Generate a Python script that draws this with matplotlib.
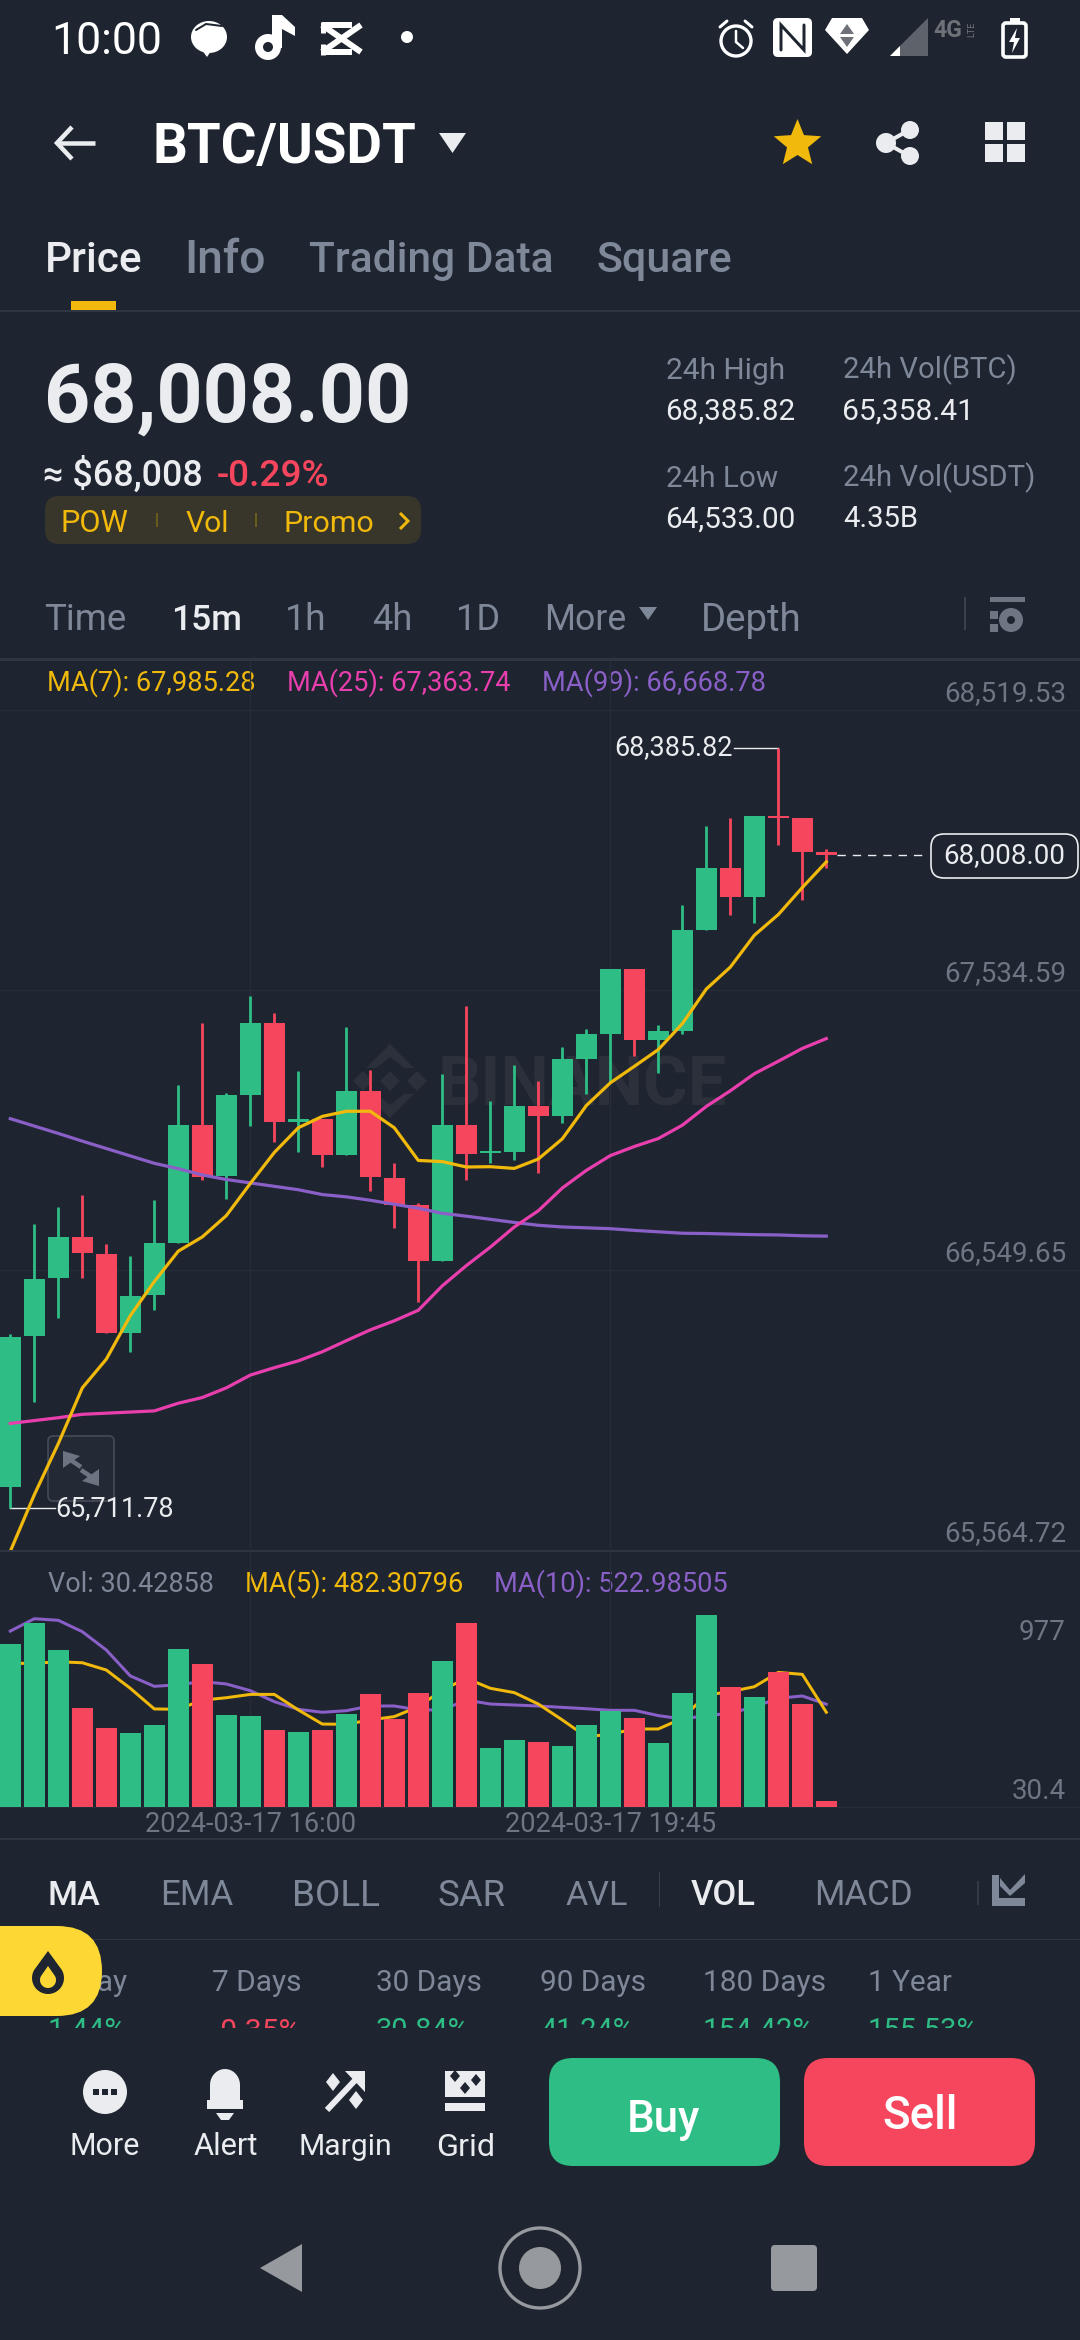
import numpy as np
import matplotlib
matplotlib.use("Agg")
import matplotlib.pyplot as plt
from matplotlib.patches import Polygon, Circle, Ellipse, Rectangle, FancyBboxPatch
from matplotlib.textpath import TextPath
from matplotlib.font_manager import FontProperties
from matplotlib.transforms import ScaledTranslation

# ---------- data ----------
opens = [65788, 66317, 66521, 66664, 66607, 66329, 66460, 66646, 67058, 66880, 67167, 67419,
         67072, 67080, 66955, 67181, 66874, 66779, 66583, 67058, 66961, 66965, 67125, 67091,
         67293, 67380, 67609, 67359, 67391, 67744, 67964, 67863, 68147, 68140, 68019]
highs = [66323, 66712, 66771, 66815, 66640, 66599, 66797, 67201, 67419, 67173, 67512, 67452,
         67248, 67080, 67403, 67252, 66927, 66787, 67238, 67478, 67145, 67272, 67215, 67334,
         67398, 67609, 67609, 67411, 67835, 68110, 68138, 68147, 68385.82, 68140, 68030]
lows = [65711.78, 66085, 66381, 66521, 66329, 66260, 66410, 66646, 66868, 66801, 67056, 66999,
        66963, 66912, 66955, 66826, 66696, 66436, 66583, 66868, 66927, 66937, 66891, 67065,
        67169, 67208, 67302, 67243, 67380, 67744, 67799, 67769, 68045, 67851, 67965]
closes = [66315, 66519, 66664, 66610, 66329, 66458, 66644, 67058, 66878, 67167, 67419, 67072,
          67080, 66955, 67181, 66876, 66779, 66583, 67058, 66959, 66969, 67125, 67091, 67292,
          67380, 67609, 67359, 67391, 67744, 67964, 67863, 68147, 68140, 68020, 68008]
ma7 = [65560, 65759, 65939, 66135, 66236, 66389, 66509, 66616, 66666, 66741, 66854, 66963,
       67050, 67090, 67108, 67108, 67050, 66935, 66931, 66912, 66913, 66907, 66940, 67011,
       67128, 67208, 67266, 67325, 67416, 67538, 67615, 67727, 67800, 67895, 67985.28]
ma25 = [66010, 66020, 66030, 66042, 66046, 66050, 66054, 66081, 66101, 66135, 66180, 66206,
        66230, 66262, 66301, 66339, 66371, 66408, 66494, 66565, 66630, 66701, 66758, 66838,
        66900, 66952, 66984, 67012, 67059, 67125, 67180, 67240, 67284, 67329, 67363.74]
ma99 = [67082, 67056, 67030, 67003, 66977, 66951, 66925, 66906, 66884, 66868, 66856, 66844,
        66832, 66815, 66807, 66795, 66781, 66767, 66749, 66739, 66728, 66717, 66707, 66701,
        66698, 66695, 66689, 66684, 66679, 66678, 66676, 66674, 66673, 66670, 66668.78]
volume = [831, 938, 797, 502, 402, 377, 416, 802, 729, 466, 465, 390, 383, 393, 471, 573, 449,
          580, 741, 936, 298, 343, 329, 310, 419, 488, 451, 327, 578, 977, 611, 561, 685, 526,
          30.43]
vol_ma5 = [731, 731, 739, 734, 697, 604, 499, 497, 544, 556, 573, 573, 494, 422, 421, 443, 460,
           510, 595, 655, 604, 582, 524, 443, 358, 370, 397, 397, 451, 570, 587, 612, 685, 675,
           482.31]
vol_ma10 = [895, 958, 950, 892, 799, 667, 614, 622, 638, 626, 592, 536, 497, 482, 490, 514, 514,
            494, 494, 544, 524, 519, 514, 507, 500, 492, 492, 465, 448, 465, 477, 510, 553, 565,
            522.99]
price_ticks = [65564.72, 66549.65, 67534.59, 68519.53]
price_labels = ["65,564.72", "66,549.65", "67,534.59", "68,519.53"]
vol_ticks = [30.4, 977]
vol_labels = ["30.4", "977"]
date_idx = [10, 25]
date_labels = ["2024-03-17 16:00", "2024-03-17 19:45"]
last_price = 68008.00

# ---------- palette ----------
BG = "#1E2530"
GREEN = "#2EBD85"
RED = "#F6465D"
YEL = "#F0B90B"
PINK = "#E93FAE"
PURP = "#8A60C8"
WHITE = "#EAECEF"
GREY = "#7F8899"
DIM = "#6E7683"
LINE = "#272D38"
SEP = "#2F3641"
FONT = ["Roboto", "DejaVu Sans"]

W, H = 1080, 2340
plt.rcParams["font.family"] = FONT
fig = plt.figure(figsize=(W / 100, H / 100), dpi=100, facecolor=BG)
ui = fig.add_axes([0, 0, 1, 1], zorder=0)
ui.set_xlim(0, W)
ui.set_ylim(H, 0)
ui.axis("off")


def extents(s, weight="normal"):
    fp = FontProperties(family=FONT, weight=weight, size=100)
    return TextPath((0, 0), s, prop=fp).get_extents()


def em_for(s, width, weight="normal"):
    return width / (extents(s, weight).width / 100.0)


def T(x0, x1, yc, s, color=WHITE, weight="normal", ax=None, z=5):
    """Text whose ink spans x0..x1 px with cap-centre at yc."""
    em = em_for(s, x1 - x0, weight)
    bearing = extents(s, weight).x0 / 100.0 * em
    return ui.text(x0 - bearing, yc + 0.355 * em, s, color=color, fontsize=em * 0.72, weight=weight,
                   ha="left", va="baseline", zorder=z)


def poly(pts, color, z=4):
    ui.add_patch(Polygon(pts, closed=True, fc=color, ec="none", zorder=z))


def rect(x0, y0, x1, y1, color, z=4):
    ui.add_patch(Rectangle((x0, y0), x1 - x0, y1 - y0, fc=color, ec="none", zorder=z))


def rrect(x0, y0, x1, y1, r, fc, ec="none", lw=0, z=4):
    ui.add_patch(FancyBboxPatch((x0, y0), x1 - x0, y1 - y0,
                                boxstyle=f"round,pad=0,rounding_size={r}",
                                fc=fc, ec=ec, lw=lw, zorder=z))


def circ(x, y, r, fc, ec="none", lw=0, z=4):
    ui.add_patch(Ellipse((x, y), 2 * r, 2 * r, fc=fc, ec=ec, lw=lw, zorder=z))


def pl(xs, ys, color, lw=3, z=4, cap="round"):
    ui.plot(xs, ys, color=color, lw=lw * 0.72, zorder=z, solid_capstyle=cap, solid_joinstyle="miter")


# ---------- status bar ----------
T(55, 160, 38, "10:00", "#FFFFFF")
ui.add_patch(Ellipse((209, 37), 36, 32, fc="#FFFFFF", ec="none", zorder=4))
poly([(199, 46), (213, 48), (207, 57)], "#FFFFFF")
pl([196, 206, 222], [30, 24, 26], BG, 2, z=5)
# note glyph
rect(272, 15, 282, 48, "#FFFFFF")
circ(268, 47, 13, "#FFFFFF")
circ(268, 47, 5, BG, z=5)
poly([(282, 15), (295, 27), (295, 36), (282, 29)], "#FFFFFF")
# hourglass
pl([322, 361], [25, 52], "#FFFFFF", 6, cap="butt")
pl([361, 322], [25, 52], "#FFFFFF", 6, cap="butt")
pl([322, 352], [25, 25], "#FFFFFF", 6, cap="butt")
pl([322, 352], [52, 52], "#FFFFFF", 6, cap="butt")
pl([323, 323], [22, 33], "#FFFFFF", 5, cap="butt")
pl([323, 323], [44, 55], "#FFFFFF", 5, cap="butt")
circ(407, 37, 6, "#FFFFFF")
# alarm
circ(736, 41, 15, BG, ec="#FFFFFF", lw=2.4)
pl([736, 736, 743], [31, 42, 48], "#FFFFFF", 2.5)
pl([720, 727], [27, 21], "#FFFFFF", 3)
pl([745, 752], [21, 27], "#FFFFFF", 3)
# NFC
rrect(773, 18, 812, 57, 5, "#FFFFFF")
pl([781, 781, 804, 804], [50, 25, 50, 25], BG, 3, z=5)
# diamond
poly([(832, 18), (862, 18), (869, 30), (847, 54), (825, 30)], "#FFFFFF")
poly([(847, 24), (840, 34), (854, 34)], "#6E7278", z=5)
poly([(847, 47), (840, 37), (854, 37)], "#6E7278", z=5)
# signal
poly([(890, 56), (928, 18), (928, 56)], "#5E636B")
poly([(890, 56), (900, 46), (900, 56)], "#FFFFFF", z=5)
T(934, 961, 29, "4G", "#6E7278", "bold")
ui.text(972, 29, "LTE", color="#6E7278", fontsize=6.5, rotation=90, ha="center", va="center")
# battery
rrect(1003, 23, 1026, 57, 3, BG, ec="#FFFFFF", lw=2.6)
rect(1010, 18, 1020, 23, "#FFFFFF")
poly([(1017, 28), (1009, 42), (1014, 42), (1012, 53), (1020, 38), (1015, 38)], "#FFFFFF", z=5)

# ---------- title row ----------
pl([95, 58], [143, 143], WHITE, 4.5, cap="butt")
pl([72, 57, 72], [127, 143, 159], WHITE, 4.5, cap="butt")
T(156, 415, 144, "BTC/USDT", "#FFFFFF", "bold")
poly([(439, 133), (466, 133), (452.5, 153)], WHITE)
ang = np.deg2rad(np.arange(10) * 36 - 90)
rad = np.where(np.arange(10) % 2 == 0, 25, 11)
poly(np.c_[797.5 + rad * np.cos(ang), 144 + rad * np.sin(ang)], "#F0B90B")
pl([911, 886, 911], [129, 143, 157], WHITE, 4)
circ(886, 143, 10, WHITE)
circ(910, 130, 9, WHITE)
circ(910, 156, 9, WHITE)
for gx in (985, 1007):
    for gy in (122, 144):
        rect(gx, gy, gx + 18, gy + 18, WHITE)

# ---------- tabs ----------
T(48, 141, 257, "Price", WHITE, "medium")
T(188, 264, 257, "Info", GREY, "medium")
T(310, 552, 257, "Trading Data", GREY, "medium")
T(598, 731, 257, "Square", GREY, "medium")
rect(71, 301, 116, 310, "#F0B90B")
rect(0, 310, W, 312, SEP)

# ---------- price block ----------
T(48, 408, 393, "68,008.00", WHITE, "bold")
T(45, 201, 473, "≈ $68,008", WHITE, "medium")
T(218, 328, 473, "-0.29%", RED, "medium")
rrect(45, 496, 421, 544, 14, "#38352B")
T(63, 128, 521, "POW", YEL)
T(186, 227, 521, "Vol", YEL)
T(286, 373, 521, "Promo", YEL)
rect(156, 513, 158, 527, "#6B5A1E")
rect(255, 513, 257, 527, "#6B5A1E")
pl([400, 408, 400], [513, 521, 529], YEL, 3, cap="butt")
T(667, 783, 368, "24h High", GREY)
T(667, 794, 409, "68,385.82", WHITE)
T(844, 1014, 368, "24h Vol(BTC)", GREY)
T(844, 968, 409, "65,358.41", WHITE)
T(667, 777, 476, "24h Low", GREY)
T(667, 794, 517, "64,533.00", WHITE)
T(844, 1033, 476, "24h Vol(USDT)", GREY)
T(844, 917, 517, "4.35B", WHITE)

# ---------- interval row ----------
T(45, 125, 617, "Time", GREY)
T(174, 240, 617, "15m", WHITE, "medium")
T(288, 324, 617, "1h", GREY)
T(373, 410, 617, "4h", GREY)
T(459, 498, 617, "1D", GREY)
T(547, 625, 617, "More", GREY)
poly([(639, 607), (657, 607), (648, 620)], GREY)
T(704, 799, 617, "Depth", GREY)
rect(964, 597, 965.5, 630, "#3A414C")
rect(990, 597, 1025, 602, DIM)
rect(990, 611, 998, 619, DIM)
rect(990, 624, 998, 632, DIM)
circ(1011, 620, 12, DIM)
circ(1011, 620, 4, BG, z=5)
rect(0, 658, W, 661, SEP)

# ---------- indicator legends ----------
T(49, 254, 681, "MA(7): 67,985.28", YEL)
T(289, 510, 681, "MA(25): 67,363.74", PINK)
T(544, 764, 681, "MA(99): 66,668.78", PURP)
T(48, 212, 1582, "Vol: 30.42858", GREY)
T(247, 462, 1582, "MA(5): 482.30796", YEL)
T(496, 727, 1582, "MA(10): 522.98505", PURP)

# ---------- watermark (behind chart) ----------
WM = "#2B303B"
wx, wy = 390, 1081
poly([(wx, wy - 10), (wx + 10, wy), (wx, wy + 10), (wx - 10, wy)], WM, z=2)
poly([(wx - 37, wy), (wx - 27, wy - 10), (wx - 17, wy), (wx - 27, wy + 10)], WM, z=2)
poly([(wx + 37, wy), (wx + 27, wy - 10), (wx + 17, wy), (wx + 27, wy + 10)], WM, z=2)
poly([(wx, wy - 37), (wx + 24, wy - 13), (wx + 14, wy - 13), (wx, wy - 24), (wx - 14, wy - 13), (wx - 24, wy - 13)], WM, z=2)
poly([(wx, wy + 37), (wx + 24, wy + 13), (wx + 14, wy + 13), (wx, wy + 24), (wx - 14, wy + 13), (wx - 24, wy + 13)], WM, z=2)
T(442, 725, 1081, "BINANCE", WM, "bold", z=2)

# expand button (behind chart)
rrect(48, 1436, 114, 1501, 5, "#232A35", ec="#454C57", lw=1.2, z=2)
poly([(63, 1451), (80, 1456), (63, 1468)], "#6B7480", z=3)
pl([69, 81], [1459, 1467], "#6B7480", 4.5, z=3, cap="butt")
poly([(99, 1486), (82, 1481), (99, 1469)], "#6B7480", z=3)
pl([93, 81], [1478, 1470], "#6B7480", 4.5, z=3, cap="butt")

# last-price box (behind chart text)
rrect(931, 834, 1078, 878, 13, BG, ec=WHITE, lw=1.2, z=3)

# ---------- chart axes ----------
X_PER_PX = 1 / 24.0
X0 = 10.3
xlim = (-X0 * X_PER_PX, (W - X0) * X_PER_PX)
idx = np.arange(len(closes))
to_i = lambda px: (px - X0) * X_PER_PX
dpi_trans = fig.dpi_scale_trans


def shift(label, dy_px):
    label.set_transform(label.get_transform() + ScaledTranslation(0, dy_px / 100.0, dpi_trans))


per_px = (price_ticks[3] - price_ticks[0]) / 840.0
ax = fig.add_axes([0, 1 - 1550 / H, 1, (1550 - 661) / H], zorder=1)
ax.patch.set_visible(False)
ax.set_xlim(*xlim)
ax.set_ylim(price_ticks[0], price_ticks[3] + 49 * per_px)
for s in ax.spines.values():
    s.set_visible(False)
ax.set_axisbelow(True)
ax.grid(True, color=LINE, lw=1.0)
ax.set_xticks(date_idx)
ax.set_xticklabels([])
ax.set_yticks(price_ticks)
ax.set_yticklabels(price_labels)
ax.yaxis.tick_right()
ax.tick_params(axis="both", length=0, pad=-14 * 0.72)
em_tick = em_for(price_labels[0], 119)
for lab in ax.get_yticklabels():
    lab.set_ha("right")
    lab.set_color(DIM)
    lab.set_fontsize(em_tick * 0.72)
    shift(lab, 19)

colors = [GREEN if c >= o else RED for o, c in zip(opens, closes)]
ax.vlines(idx, lows, highs, colors=colors, lw=2.8 * 0.72, zorder=3)
ax.bar(idx, np.abs(np.array(closes) - np.array(opens)), bottom=np.minimum(opens, closes),
       width=21 / 24, color=colors, linewidth=0, zorder=3)
ax.plot(idx, ma99, color=PURP, lw=3.2 * 0.72, zorder=4)
ax.plot(idx, ma25, color=PINK, lw=3.2 * 0.72, zorder=4)
ax.plot(idx, ma7, color=YEL, lw=3.2 * 0.72, zorder=5)

# high / low / last-price markers
imax = int(np.argmax(highs))
imin = int(np.argmin(lows))
ax.plot([to_i(734), imax], [highs[imax], highs[imax]], color=WHITE, lw=1.0, zorder=2)
ax.plot([imin, to_i(55)], [lows[imin], lows[imin]], color=WHITE, lw=1.0, zorder=2)
em_m = em_for("68,385.82", 116)
ax.text(to_i(733), highs[imax], "68,385.82", color=WHITE, fontsize=em_m * 0.72,
        ha="right", va="center", zorder=6)
ax.text(to_i(55.5), lows[imin], "65,711.78", color=WHITE, fontsize=em_m * 0.72,
        ha="left", va="center", zorder=6)
ax.plot([to_i(837), to_i(927)], [last_price, last_price], color=WHITE, lw=1.0,
        dashes=(6, 5), zorder=2)
ax.text(to_i(1004.5), last_price, "68,008.00", color=WHITE, fontsize=em_m * 0.74, ha="center",
        va="center", zorder=7)

# ---------- volume axes ----------
vpp = 977 / 192.0
vx = fig.add_axes([0, 1 - 1807 / H, 1, 256 / H], zorder=1)
vx.patch.set_visible(False)
vx.set_xlim(*xlim)
vx.set_ylim(0, 256 * vpp)
for s in vx.spines.values():
    s.set_visible(False)
vx.spines["bottom"].set_visible(True)
vx.spines["bottom"].set_color(LINE)
vx.spines["bottom"].set_linewidth(1.0)
vx.set_axisbelow(True)
vx.grid(True, axis="x", color=LINE, lw=1.0)
vx.set_xticks(date_idx)
vx.set_xticklabels(date_labels)
vx.set_yticks(vol_ticks)
vx.set_yticklabels(vol_labels)
vx.yaxis.tick_right()
vx.tick_params(axis="x", length=0, pad=3, colors=GREY)
vx.tick_params(axis="y", length=0, pad=-14 * 0.72)
em_date = em_for(date_labels[0], 208)
for lab in vx.get_xticklabels():
    lab.set_fontsize(em_date * 0.72)
    lab.set_color(DIM)
for lab, dy in zip(vx.get_yticklabels(), (13, -14)):
    lab.set_ha("right")
    lab.set_color(DIM)
    lab.set_fontsize(em_tick * 0.72)
    shift(lab, dy)
vx.plot(idx, vol_ma10, color=PURP, lw=3.0 * 0.72, zorder=2)
vx.plot(idx, vol_ma5, color=YEL, lw=3.0 * 0.72, zorder=2)
vx.bar(idx, volume, width=21 / 24, color=colors, linewidth=0, zorder=3)

rect(0, 1550, W, 1552, SEP)
rect(0, 1838, W, 1840, SEP)

# ---------- indicator tabs ----------
T(50, 100, 1893, "MA", WHITE, "medium")
T(163, 233, 1893, "EMA", GREY)
T(295, 379, 1893, "BOLL", GREY)
T(439, 505, 1893, "SAR", GREY)
T(566, 627, 1893, "AVL", GREY)
rect(658.5, 1872, 660, 1907, "#3A414C")
T(691, 755, 1893, "VOL", WHITE, "medium")
T(817, 911, 1893, "MACD", GREY)
rect(977, 1881, 979, 1905, "#333A45")
poly([(992, 1875), (999, 1875), (999, 1898), (1025, 1898), (1025, 1906), (992, 1906)], GREY)
poly([(1000, 1878), (1010, 1890), (1025, 1874), (1025, 1883), (1010, 1896), (1000, 1886)], GREY)
rect(90, 1938.5, W, 1940, SEP)

# ---------- period performance ----------
T(46, 127, 1980, "Today", GREY)
T(213, 300, 1980, "7 Days", GREY)
T(377, 480, 1980, "30 Days", GREY)
T(541, 644, 1980, "90 Days", GREY)
T(705, 824, 1980, "180 Days", GREY)
T(870, 951, 1980, "1 Year", GREY)
T(50, 125, 2029, "1.44%", GREEN)
T(213, 300, 2029, "-0.35%", RED)
T(377, 468, 2029, "30.84%", GREEN)
T(541, 633, 2029, "41.24%", GREEN)
T(705, 813, 2029, "154.42%", GREEN)
T(870, 977, 2029, "155.53%", GREEN)
rect(0, 2028, W, 2058, BG, z=6)

# floating button
rrect(-50, 1926, 102, 2016, 45, "#FDD835", z=7)
drop_t = np.deg2rad(np.linspace(-30, 210, 40))
drop = np.c_[48 + 16 * np.cos(drop_t), 1978 + 16 * np.sin(drop_t)]
poly(np.vstack([[(48, 1951)], drop]), "#1E2530", z=8)
drop2 = np.c_[48 + 8 * np.cos(drop_t), 1980 + 8 * np.sin(drop_t)]
poly(np.vstack([[(48, 1966)], drop2]), "#FDD835", z=9)

# ---------- bottom actions ----------
circ(105, 2092, 22, WHITE)
for dx in (-9, 0, 9):
    rect(105 + dx - 3, 2089, 105 + dx + 3, 2095, BG, z=5)
t = np.deg2rad(np.linspace(180, 360, 20))
poly(np.vstack([np.c_[225 + 15 * np.cos(t), 2085 + 16 * np.sin(t)],
                [(240, 2100), (243, 2100), (243, 2109), (207, 2109), (207, 2100), (210, 2100)]]), WHITE)
poly([(216, 2113), (234, 2113), (229, 2120), (221, 2120)], WHITE)
pl([327, 361], [2110, 2074], WHITE, 6, cap="butt")
poly([(345, 2071), (365, 2071), (365, 2092)], WHITE)
poly([(333, 2073), (340, 2082), (333, 2091), (326, 2082)], WHITE)
poly([(356, 2091), (363, 2100), (356, 2109), (349, 2100)], WHITE)
poly([(445, 2071), (485, 2071), (485, 2097), (445, 2097)], WHITE)
for p in [(455, 2076), (465, 2088), (476, 2080)]:
    poly([(p[0], p[1] - 6), (p[0] + 5, p[1]), (p[0], p[1] + 6), (p[0] - 5, p[1])], BG, z=5)
rect(445, 2103, 485, 2111, WHITE)
T(72, 139, 2144, "More", WHITE)
T(194, 257, 2144, "Alert", WHITE)
T(301, 390, 2144, "Margin", WHITE)
T(438, 493, 2144, "Grid", WHITE)
rrect(549, 2058, 780, 2166, 24, GREEN)
rrect(804, 2058, 1035, 2166, 24, RED)
T(630, 700, 2116, "Buy", "#FFFFFF", "medium", z=6)
T(884, 955, 2113, "Sell", "#FFFFFF", "medium", z=6)

# ---------- nav bar ----------
NAV = "#96999E"
poly([(302, 2244), (302, 2292), (260, 2268)], NAV)
circ(540, 2268, 40, BG, ec=NAV, lw=2.4)
circ(540, 2268, 21, NAV)
rrect(771, 2245, 817, 2291, 4, NAV)

fig.savefig("out.png", dpi=100, facecolor=BG)
